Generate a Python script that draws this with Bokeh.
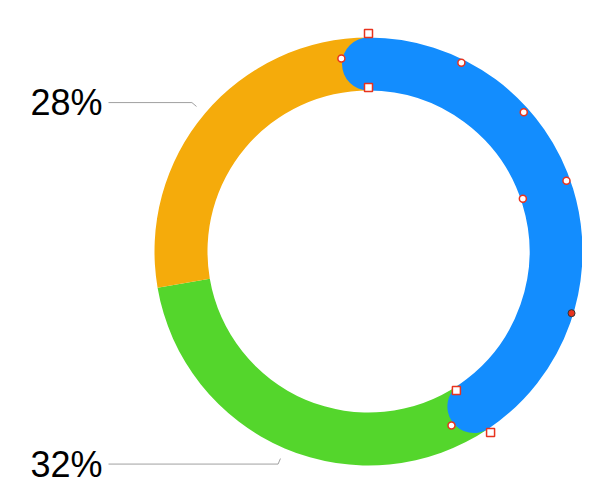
import math
from bokeh.plotting import figure
from bokeh.models import Range1d
from bokeh.core.properties import value
from bokeh.embed import file_html
from bokeh.resources import INLINE

# ---- data ----
categories = ["Blue", "Green", "Orange"]
values = [40.5, 31.8, 27.7]
colors = ["#138DFE", "#54D62C", "#F5AB0B"]
labeled = [False, True, True]

# edit-handle markers drawn on the blue arc (polar: degrees, radius in px)
square_angles = [90.0, 90.0, -57.7, -56.0]
square_radii = [218.0, 164.0, 164.5, 218.3]
circle_angles = [98.0, 63.8, 41.9, 19.65, 18.85, -64.5]
circle_radii = [194.9, 210.4, 208.6, 210.2, 163.1, 192.8]
dot_angles = [-16.9]
dot_radii = [212.2]

# ---- geometry ----
W, H = 582, 486
CX, CY = 368, 235          # centre in data (pixel) units
R_OUT, R_IN = 214, 161
R_MID = (R_OUT + R_IN) / 2
RING_W = R_OUT - R_IN

p = figure(width=W, height=H, output_backend="svg", toolbar_location=None,
           x_range=Range1d(0, W), y_range=Range1d(0, H), min_border=0)
p.axis.visible = False
p.grid.visible = False
p.outline_line_color = None
p.background_fill_color = "white"
p.border_fill_color = "white"

total = sum(values)
start = 90.0
segs = []
for cat, v, c in zip(categories, values, colors):
    sweep = 360.0 * v / total
    end = start - sweep
    segs.append((start, end, c, v))
    start = end

# green and orange wedges first
for i, (s, e, c, v) in enumerate(segs):
    if i == 0:
        continue
    p.annular_wedge(x=CX, y=CY, inner_radius=R_IN, outer_radius=R_OUT,
                    start_angle=math.radians(e), end_angle=math.radians(s),
                    fill_color=c, line_color=None)

# blue arc with round caps on top
s, e, c, v = segs[0]
p.arc(x=CX, y=CY, radius=R_MID, start_angle=math.radians(e),
      end_angle=math.radians(s), line_color=c, line_width=RING_W,
      line_cap="round")

# leader lines and labels
for i, (s, e, c, v) in enumerate(segs):
    if not labeled[i]:
        continue
    mid = math.radians((s + e) / 2)
    x0, y0 = CX + 225 * math.cos(mid), CY + 225 * math.sin(mid)
    x1, y1 = CX + 231 * math.cos(mid), CY + 231 * math.sin(mid)
    p.line([x0, x1, 108], [y0, y1, y1], line_color="#A0A0A0", line_width=1)
    p.text(x=[102], y=[y1], text=[f"{round(v)}%"], text_align="right",
           text_baseline="middle", text_font=value("Liberation Sans"),
           text_font_size="36px", text_color="#000000")

def polar(angs, rads):
    xs = [CX + r * math.cos(math.radians(a)) for a, r in zip(angs, rads)]
    ys = [CY + r * math.sin(math.radians(a)) for a, r in zip(angs, rads)]
    return xs, ys

sx, sy = polar(square_angles, square_radii)
p.scatter(sx, sy, marker="square", size=8, fill_color="white",
          line_color="#E8331E", line_width=1.5)
cx_, cy_ = polar(circle_angles, circle_radii)
p.scatter(cx_, cy_, marker="circle", size=7, fill_color="white",
          line_color="#E8331E", line_width=1.5)
dx_, dy_ = polar(dot_angles, dot_radii)
p.scatter(dx_, dy_, marker="circle", size=7, fill_color="#E8331E",
          line_color="#333333", line_width=1)

open("out.html", "w").write(file_html(p, INLINE))
